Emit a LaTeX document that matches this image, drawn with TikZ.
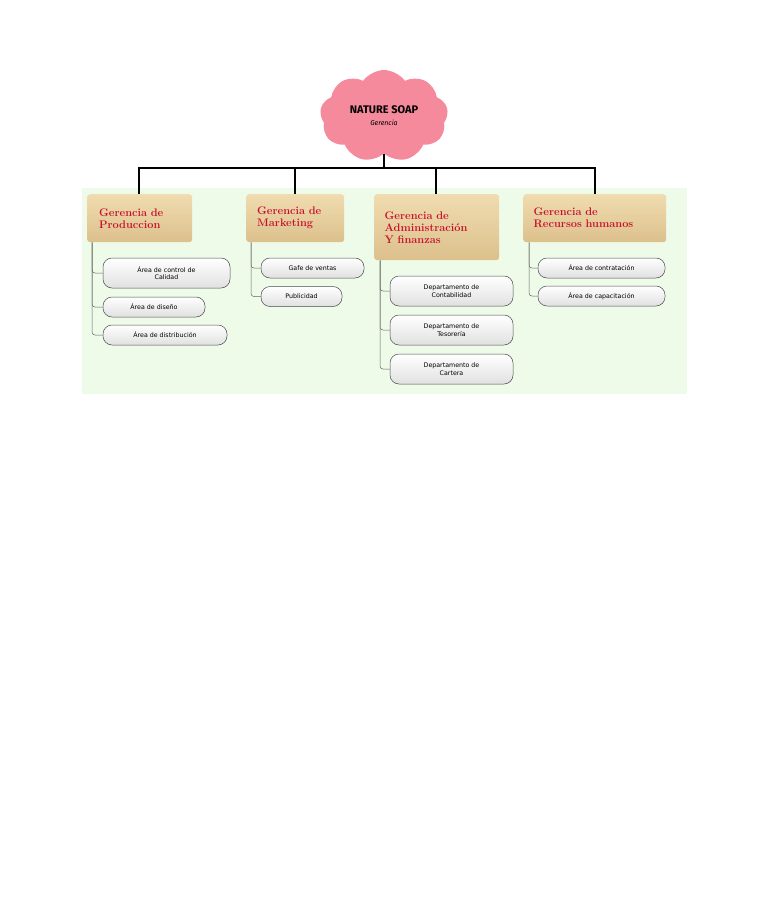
\documentclass[tikz,border=0pt]{standalone}
\usepackage{fontspec}
\newfontfamily\pillfont{DejaVu Sans}
\newfontfamily\cloudfont{Fira Sans}
\usetikzlibrary{shapes.symbols}
\definecolor{bgG}{HTML}{EEFBE8}
\definecolor{tanT}{HTML}{F0DCB0}
\definecolor{tanB}{HTML}{DCC08C}
\definecolor{redT}{HTML}{C8102E}
\definecolor{pinkC}{HTML}{F48A9C}
\begin{document}
\begin{tikzpicture}[x=1pt,y=-1pt,
  head/.style={draw=none,rounded corners=3pt,top color=tanT,bottom color=tanB,
    font=\bfseries\fontsize{11}{12}\selectfont,text=redT,align=left,anchor=north west,inner sep=0pt},
  pill/.style={draw=black!70,line width=0.5pt,rounded corners=9pt,top color=white,bottom color=black!12,
    font=\pillfont\fontsize{6.3}{7.5}\selectfont,align=center,inner sep=0pt},
  bus/.style={line width=1.2pt},
  lnk/.style={draw=black!60,line width=0.5pt,rounded corners=3pt}]
\useasboundingbox (0,0) rectangle (768,920);
\fill[bgG] (82,188) rectangle (687,394);
\node[cloud,cloud puffs=9,cloud puff arc=110,aspect=1.4,fill=pinkC,draw=none,minimum width=128pt,minimum height=92pt,inner sep=0pt,align=center] (top) at (384,116)
  {{\cloudfont\bfseries\fontsize{11}{13}\selectfont NATURE SOAP}\\{\cloudfont\itshape\fontsize{7}{9}\selectfont Gerencia}};
% headers
\node[head,minimum width=105pt,minimum height=48pt,text width=95pt] (h1) at (87,194) {\hspace*{7pt}Gerencia de\\\hspace*{7pt}Produccion};
\node[head,minimum width=98pt,minimum height=48pt,text width=90pt] (h2) at (246,194) {\hspace*{7pt}Gerencia de\\\hspace*{7pt}Marketing};
\node[head,minimum width=125pt,minimum height=66pt,text width=118pt] (h3) at (374,194) {\hspace*{7pt}Gerencia de\\\hspace*{7pt}Administración\\\hspace*{7pt}Y finanzas};
\node[head,minimum width=143pt,minimum height=48pt,text width=136pt] (h4) at (523,194) {\hspace*{7pt}Gerencia de\\\hspace*{7pt}Recursos humanos};
% bus
\coordinate (j) at (384,168);
\draw[bus] (top.south) -- (j);
\draw[bus] (139,194) -- (139,168) -- (595,168) -- (595,194);
\draw[bus] (295,168) -- (295,194);
\draw[bus] (436,168) -- (436,194);
% pills
\node[pill,minimum width=127pt,minimum height=30pt] (p11) at (166.5,273) {Área de control de\\Calidad};
\node[pill,minimum width=102pt,minimum height=20pt] (p12) at (154,307) {Área de diseño};
\node[pill,minimum width=124pt,minimum height=20pt] (p13) at (165,335) {Área de distribución};
\node[pill,minimum width=103pt,minimum height=20pt] (p21) at (312.5,268) {Gafe de ventas};
\node[pill,minimum width=81pt,minimum height=20pt] (p22) at (301.5,296.5) {Publicidad};
\node[pill,minimum width=123pt,minimum height=30pt] (p31) at (451.5,291) {Departamento de\\Contabilidad};
\node[pill,minimum width=123pt,minimum height=30pt] (p32) at (451.5,330) {Departamento de\\Tesorería};
\node[pill,minimum width=123pt,minimum height=30pt] (p33) at (451.5,369) {Departamento de\\Cartera};
\node[pill,minimum width=127pt,minimum height=20pt] (p41) at (601.5,268) {Área de contratación};
\node[pill,minimum width=127pt,minimum height=20pt] (p42) at (601.5,296) {Área de capacitación};
% links
\foreach \p in {p11,p12,p13}{\draw[lnk] (h1.south west) ++(5,0) |- (\p.west);}
\foreach \p in {p21,p22}{\draw[lnk] (h2.south west) ++(5,0) |- (\p.west);}
\foreach \p in {p31,p32,p33}{\draw[lnk] (h3.south west) ++(6,0) |- (\p.west);}
\foreach \p in {p41,p42}{\draw[lnk] (h4.south west) ++(6,0) |- (\p.west);}
\end{tikzpicture}
\end{document}
